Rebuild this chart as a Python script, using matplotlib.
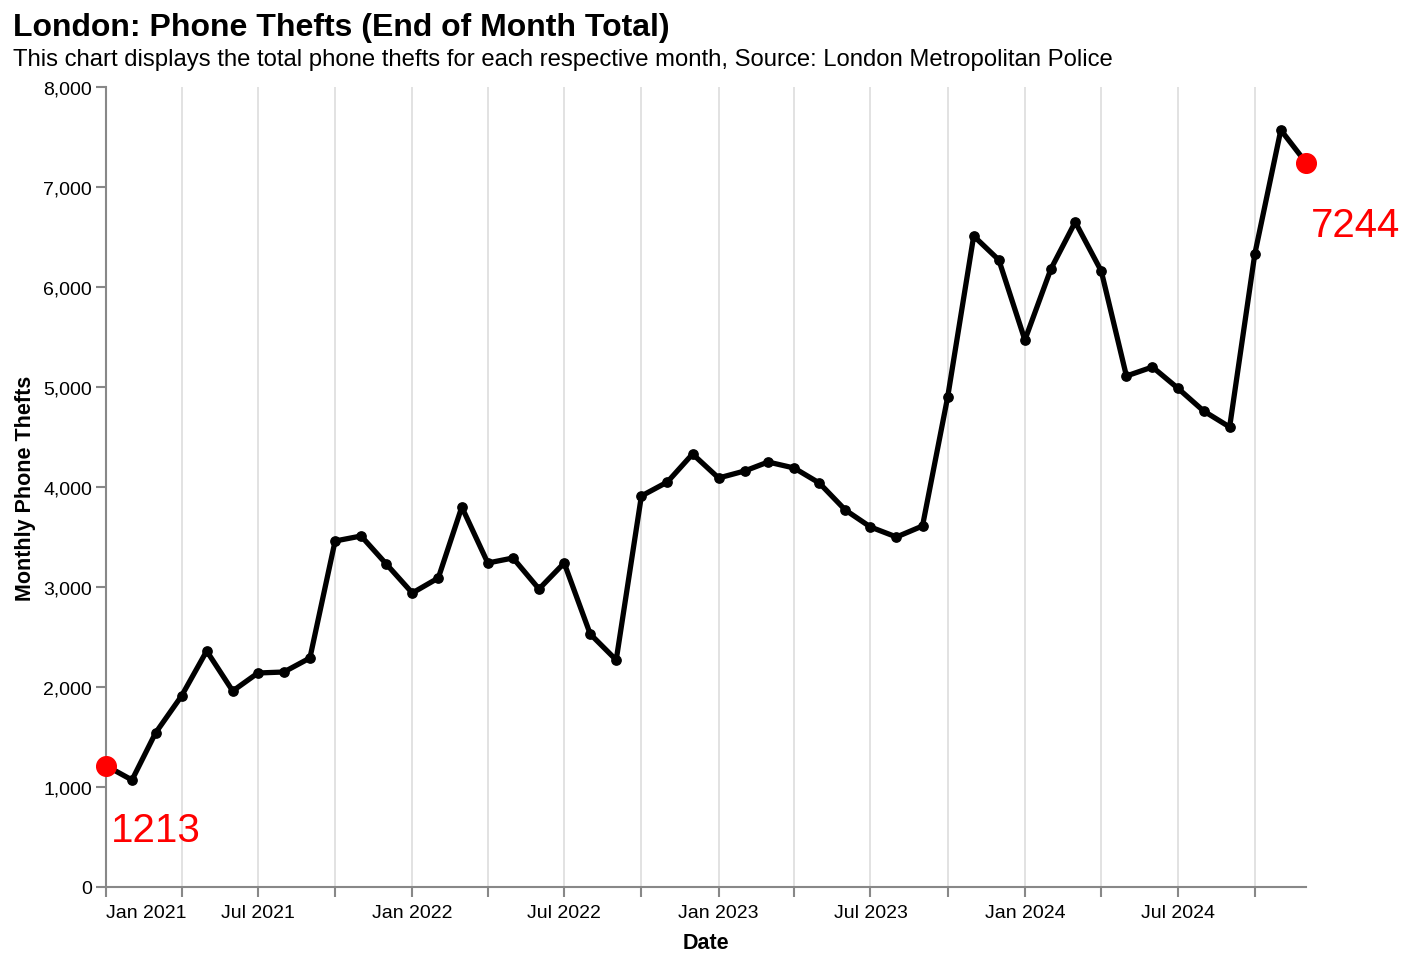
import pandas as pd
import matplotlib
matplotlib.use("Agg")
import matplotlib.pyplot as plt
import matplotlib.dates as mdates
from matplotlib.ticker import FuncFormatter

plt.rcParams["font.family"] = ["Liberation Sans", "DejaVu Sans"]

months = pd.date_range("2021-01-01", "2024-12-01", freq="MS")
thefts = [
    1213, 1070, 1540, 1910, 2360, 1960, 2140, 2150, 2290, 3460, 3510, 3230,
    2940, 3090, 3800, 3240, 3290, 2980, 3240, 2530, 2270, 3910, 4050, 4330,
    4090, 4160, 4250, 4190, 4040, 3770, 3600, 3500, 3610, 4900, 6510, 6270,
    5470, 6180, 6650, 6160, 5110, 5200, 4990, 4760, 4600, 6330, 7570, 7244,
]
tick_dates = pd.date_range("2021-01-01", "2024-10-01", freq="3MS")

title = "London: Phone Thefts (End of Month Total)"
subtitle = ("This chart displays the total phone thefts for each respective month, "
            "Source: London Metropolitan Police")

axis_grey = "#888888"

fig = plt.figure(figsize=(14.12, 9.62), dpi=100)
ax = fig.add_axes([106 / 1412, 1 - 888 / 962, 1200 / 1412, 800 / 962])

ax.plot(months, thefts, color="black", lw=3.8, solid_joinstyle="round",
        solid_capstyle="round", zorder=3)
ax.scatter(months, thefts, s=45, color="black", zorder=4)
ax.scatter([months[0], months[-1]], [thefts[0], thefts[-1]], s=200,
           color="#ff0000", zorder=5, clip_on=False)

ax.annotate(str(thefts[0]), (months[0], thefts[0]), xytext=(5, -75),
            textcoords="offset pixels", color="#ff0000", fontsize=29)
ax.annotate(str(thefts[-1]), (months[-1], thefts[-1]), xytext=(5, -73),
            textcoords="offset pixels", color="#ff0000", fontsize=29)

ax.set_xlim(months[0], months[-1])
ax.set_ylim(0, 8000)
ax.set_yticks(range(0, 8001, 1000))
ax.yaxis.set_major_formatter(FuncFormatter(lambda v, p: f"{int(v):,}"))

ax.set_xticks(tick_dates)


def date_label(v, p):
    d = mdates.num2date(v)
    if d.month in (1, 7):
        return d.strftime("%b %Y")
    return ""


ax.xaxis.set_major_formatter(FuncFormatter(date_label))
ax.grid(True, axis="x", color="#dddddd", lw=1.2)
ax.set_axisbelow(True)

for side in ["top", "right"]:
    ax.spines[side].set_visible(False)
for side in ["left", "bottom"]:
    ax.spines[side].set_color(axis_grey)
    ax.spines[side].set_linewidth(1.5)

ax.tick_params(axis="both", colors=axis_grey, length=7, width=1.5,
               labelcolor="black", labelsize=14)
ax.tick_params(axis="x", pad=5)
ax.tick_params(axis="y", pad=3)

labels = ax.get_xticklabels()
labels[0].set_horizontalalignment("left")

ax.set_xlabel("Date", fontsize=15.5, fontweight="bold", labelpad=8)
ax.set_ylabel("Monthly Phone Thefts", fontsize=15.5, fontweight="bold", labelpad=5)

fig.text(13 / 1412, 1 - 36 / 962, title, fontsize=23, fontweight="bold")
fig.text(13 / 1412, 1 - 66 / 962, subtitle, fontsize=17.2)

fig.savefig("out.png", dpi=100)
